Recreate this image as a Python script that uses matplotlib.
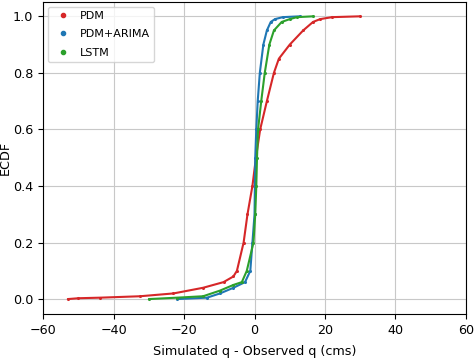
import matplotlib
matplotlib.use("Agg")
import matplotlib.pyplot as plt
from matplotlib.lines import Line2D

# ECDF levels and the error (cms) at which each model reaches them
pdm_p = [0.0, 0.003, 0.005, 0.01, 0.02, 0.04, 0.06, 0.08, 0.1, 0.2, 0.3, 0.4, 0.5, 0.6, 0.7, 0.8, 0.85, 0.9, 0.95, 0.98, 0.99, 0.997, 1.0]
pdm_x = [-53, -50, -43.8, -32.5, -23, -14.6, -8.8, -6.0, -5.0, -3.1, -2.0, -0.6, 0.4, 1.6, 3.5, 5.5, 6.9, 10.0, 13.8, 16.6, 18.6, 22.0, 30.0]

arima_p = [0.0, 0.005, 0.02, 0.04, 0.06, 0.1, 0.2, 0.3, 0.4, 0.5, 0.6, 0.7, 0.8, 0.9, 0.95, 0.98, 0.99, 0.997, 1.0]
arima_x = [-22, -13.5, -9.8, -6.0, -2.7, -1.2, -0.6, 0.0, 0.1, 0.2, 0.5, 0.9, 1.5, 2.5, 3.5, 4.6, 5.8, 8.0, 13.0]

lstm_p = [0.0, 0.005, 0.01, 0.03, 0.05, 0.06, 0.1, 0.2, 0.3, 0.4, 0.5, 0.6, 0.7, 0.8, 0.9, 0.95, 0.98, 0.99, 0.997, 1.0]
lstm_x = [-30, -22, -14.6, -9.8, -6.0, -3.6, -2.2, -0.3, 0.2, 0.5, 0.7, 1.0, 1.9, 2.9, 4.2, 5.5, 7.7, 10.0, 12.0, 16.7]

series = [("PDM", pdm_x, pdm_p, "tab:red"),
          ("PDM+ARIMA", arima_x, arima_p, "tab:blue"),
          ("LSTM", lstm_x, lstm_p, "tab:green")]

plt.rcParams['font.size'] = 9.2
fig = plt.figure(figsize=(4.74, 3.61), dpi=100)
ax = fig.add_axes([0.091, 0.130, 0.892, 0.864])

handles = []
for name, xs, ps, c in series:
    ax.plot(xs, ps, color=c, lw=1.5, marker='o', ms=1.2, solid_capstyle='round')
    handles.append(Line2D([], [], color=c, marker='o', ls='none', ms=3, label=name))

ax.set_xlim(-60, 60)
ax.set_ylim(-0.053, 1.05)
ax.set_xticks([-60, -40, -20, 0, 20, 40, 60])
ax.set_yticks([0.0, 0.2, 0.4, 0.6, 0.8, 1.0])
ax.tick_params(labelsize=9.2)
ax.grid(True, color='#c8c8c8', lw=0.8)
ax.set_axisbelow(True)
ax.set_xlabel("Simulated q - Observed q (cms)", labelpad=6)
ax.set_ylabel("ECDF", labelpad=1)
ax.legend(handles=handles, loc='upper left', fontsize=8, handletextpad=0.5,
          borderaxespad=0.4, labelspacing=0.75)

fig.savefig("out.png", dpi=100)
